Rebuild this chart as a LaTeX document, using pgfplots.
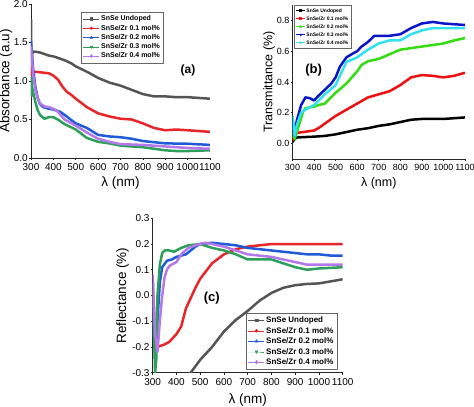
\documentclass[border=0pt]{standalone}
\usepackage{pgfplots}
\pgfplotsset{compat=1.18}
\usepackage{fontspec}
\setmainfont{Liberation Sans}
\definecolor{agray}{HTML}{555555}
\definecolor{ared}{HTML}{E8262A}
\definecolor{ablue}{HTML}{1F5BD6}
\definecolor{agreen}{HTML}{2CA05A}
\definecolor{apurple}{HTML}{B478E8}
\definecolor{bred}{HTML}{EE1111}
\definecolor{bgreen}{HTML}{33DD11}
\definecolor{bblue}{HTML}{0A14C8}
\definecolor{bcyan}{HTML}{33E0F0}
\pgfplotsset{
  panel/.style={
    scale only axis,
    axis x line*=bottom, axis y line*=left,
    axis line style={line width=0.8pt, black!85},
    tick align=outside, major tick length=2pt,
    tick style={line width=0.6pt, black!85},
    xmin=300, xmax=1100,
    xtick={300,400,...,1100},
    /pgf/number format/assume math mode=true,
    x tick label style={/pgf/number format/1000 sep={}},
    y tick label style={inner xsep=1pt,/pgf/number format/fixed,/pgf/number format/fixed zerofill,/pgf/number format/precision=1},
    legend cell align=left,
    every axis plot/.append style={line width=2.5pt, line join=round},
  },
}
\begin{document}
\begin{tikzpicture}
\useasboundingbox (0pt,0pt) rectangle (474pt,407pt);
% ---------------- (a)
\begin{axis}[panel,
  at={(31pt,249pt)}, anchor=south west, width=179pt, height=154pt,
  ymin=0, ymax=2, ytick={0,0.5,...,2},
  tick label style={font=\fontsize{10}{12}\selectfont},
  label style={font=\fontsize{13.5}{15}\selectfont},
  xlabel={λ (nm)}, ylabel={Absorbance (a.u)},
  xlabel style={at={(axis description cs:0.5,-0.162)}, anchor=center},
  ylabel style={at={(axis description cs:-0.14,0.5)}, anchor=center},
  legend style={at={(axis description cs:0.279,0.948)}, anchor=north west,
    draw=black!60, line width=0.5pt, inner xsep=2pt, inner ysep=2pt,
    font=\fontsize{7}{8}\selectfont\bfseries,
    nodes={inner xsep=1.5pt, inner ysep=1pt, text height=5.5pt, text depth=1.8pt}},
  legend image code/.code={\draw[mark repeat=2,mark phase=2,#1] plot coordinates {(0pt,0pt) (8pt,0pt) (16pt,0pt)};},
]
\addlegendimage{agray, line width=0.5pt, mark=square*, mark size=1.2pt}
\addlegendentry{SnSe Undoped}
\addlegendimage{ared, line width=0.5pt, mark=*, mark size=1.3pt}
\addlegendentry{SnSe/Zr 0.1 mol\%}
\addlegendimage{ablue, line width=0.5pt, mark=triangle*, mark size=1.5pt}
\addlegendentry{SnSe/Zr 0.2 mol\%}
\addlegendimage{agreen, line width=0.5pt, mark=triangle*, mark size=1.5pt, mark options={rotate=180}}
\addlegendentry{SnSe/Zr 0.3 mol\%}
\addlegendimage{apurple, line width=0.5pt, mark=diamond*, mark size=1.6pt}
\addlegendentry{SnSe/Zr 0.4 mol\%}
\addplot[agray, forget plot] coordinates {(300,1.80)(302,0.80)(305,1.35)(310,1.38)(320,1.38)(340,1.37)(360,1.35)(380,1.33)(400,1.32)(420,1.30)(450,1.27)(480,1.23)(500,1.19)(550,1.12)(600,1.04)(650,0.98)(700,0.94)(750,0.885)(800,0.83)(850,0.80)(900,0.80)(950,0.79)(1000,0.79)(1050,0.78)(1100,0.77)};
\addplot[ared, forget plot] coordinates {(300,1.20)(305,1.00)(310,1.12)(320,1.12)(350,1.11)(380,1.10)(400,1.07)(420,1.02)(440,0.93)(460,0.86)(480,0.82)(500,0.77)(550,0.66)(600,0.58)(650,0.54)(700,0.51)(750,0.50)(800,0.45)(850,0.39)(900,0.36)(950,0.37)(1000,0.36)(1050,0.35)(1100,0.34)};
\addplot[ablue, forget plot] coordinates {(300,1.52)(305,1.30)(310,1.15)(320,0.92)(330,0.78)(340,0.70)(355,0.66)(380,0.64)(400,0.63)(430,0.60)(450,0.56)(500,0.45)(550,0.39)(600,0.30)(650,0.28)(700,0.27)(750,0.25)(800,0.22)(900,0.19)(1000,0.185)(1100,0.17)};
\addplot[agreen, forget plot] coordinates {(300,0.80)(303,1.05)(306,0.90)(310,0.85)(320,0.72)(330,0.62)(340,0.56)(360,0.51)(380,0.53)(400,0.53)(420,0.50)(450,0.44)(500,0.37)(550,0.26)(600,0.21)(650,0.19)(700,0.16)(750,0.15)(800,0.14)(850,0.12)(900,0.10)(950,0.09)(1000,0.09)(1100,0.10)};
\addplot[apurple, forget plot] coordinates {(300,1.45)(305,1.25)(310,1.08)(320,0.88)(330,0.78)(340,0.71)(360,0.67)(380,0.66)(400,0.64)(420,0.60)(450,0.50)(500,0.42)(550,0.33)(600,0.25)(650,0.21)(700,0.18)(800,0.17)(900,0.15)(1000,0.13)(1100,0.12)};
\end{axis}
% ---------------- (b)
\begin{axis}[panel,
  at={(292.5pt,248pt)}, anchor=south west, width=172.5pt, height=154pt,
  ymin=-0.1, ymax=0.9, ytick={0,0.2,...,0.8},
  tick label style={font=\fontsize{9}{11}\selectfont},
  label style={font=\fontsize{12.5}{14}\selectfont},
  xlabel={λ (nm)}, ylabel={Transmittance (\%)},
  xlabel style={at={(axis description cs:0.5,-0.158)}, anchor=center},
  ylabel style={at={(axis description cs:-0.135,0.5)}, anchor=center},
  legend style={at={(axis description cs:0.01,1.0)}, anchor=north west,
    draw=black!60, line width=0.5pt, inner xsep=1.5pt, inner ysep=1.5pt,
    font=\fontsize{5}{6}\selectfont\bfseries,
    nodes={inner xsep=1pt, inner ysep=1pt, text height=4.5pt, text depth=1.5pt}},
  legend image code/.code={\draw[mark repeat=2,mark phase=2,#1] plot coordinates {(0pt,0pt) (4.5pt,0pt) (9pt,0pt)};},
]
\addlegendimage{black, line width=0.5pt, mark=square*, mark size=1pt}
\addlegendentry{SnSe Undoped}
\addlegendimage{bred, line width=0.5pt, mark=square*, mark size=1pt}
\addlegendentry{SnSe/Zr 0.1 mol\%}
\addlegendimage{bgreen, line width=0.5pt, mark=triangle*, mark size=1.3pt}
\addlegendentry{SnSe/Zr 0.2 mol\%}
\addlegendimage{bblue, line width=0.5pt, mark=triangle*, mark size=1.3pt, mark options={rotate=180}}
\addlegendentry{SnSe/Zr 0.3 mol\%}
\addlegendimage{bcyan, line width=0.5pt, mark=*, mark size=1.1pt}
\addlegendentry{SnSe/Zr 0.4 mol\%}
\addplot[black, forget plot] coordinates {(300,0.01)(310,0.03)(320,0.04)(350,0.042)(400,0.045)(450,0.05)(500,0.06)(550,0.075)(600,0.09)(650,0.10)(700,0.115)(750,0.125)(800,0.14)(850,0.155)(900,0.16)(950,0.16)(1000,0.16)(1050,0.165)(1100,0.17)};
\addplot[bred, forget plot] coordinates {(300,0.02)(310,0.05)(320,0.07)(350,0.075)(400,0.085)(420,0.10)(450,0.13)(500,0.18)(550,0.22)(600,0.26)(650,0.30)(700,0.32)(750,0.34)(800,0.38)(850,0.43)(900,0.445)(950,0.44)(1000,0.43)(1050,0.44)(1100,0.46)};
\addplot[bgreen, forget plot] coordinates {(300,0.07)(310,0.03)(330,0.12)(350,0.21)(360,0.23)(400,0.24)(420,0.25)(450,0.26)(500,0.33)(550,0.39)(600,0.47)(620,0.51)(650,0.535)(700,0.55)(750,0.58)(800,0.61)(850,0.62)(900,0.63)(950,0.64)(1000,0.65)(1050,0.67)(1100,0.685)};
\addplot[bblue, forget plot] coordinates {(300,0.16)(310,0.05)(320,0.15)(340,0.25)(360,0.30)(380,0.295)(400,0.28)(420,0.31)(450,0.35)(480,0.39)(500,0.43)(520,0.50)(550,0.56)(580,0.585)(600,0.60)(620,0.63)(650,0.66)(680,0.70)(700,0.70)(750,0.70)(800,0.71)(850,0.75)(900,0.78)(950,0.79)(1000,0.78)(1050,0.775)(1100,0.77)};
\addplot[bcyan, forget plot] coordinates {(300,0.18)(310,0.05)(320,0.12)(340,0.20)(360,0.22)(400,0.25)(450,0.32)(500,0.38)(530,0.47)(550,0.53)(600,0.56)(650,0.61)(700,0.65)(750,0.67)(800,0.67)(850,0.71)(900,0.735)(950,0.75)(1000,0.75)(1050,0.75)(1100,0.75)};
\end{axis}
% ---------------- (c)
\begin{axis}[panel,
  at={(152.7pt,34.3pt)}, anchor=south west, width=190pt, height=154.4pt,
  ymin=-0.3, ymax=0.3, ytick={-0.3,-0.2,...,0.31},
  tick label style={font=\fontsize{10}{12}\selectfont},
  label style={font=\fontsize{13.5}{15}\selectfont},
  xlabel={λ (nm)}, ylabel={Reflectance (\%)},
  xlabel style={at={(axis description cs:0.5,-0.177)}, anchor=center},
  ylabel style={at={(axis description cs:-0.158,0.5)}, anchor=center},
  legend style={at={(axis description cs:0.491,0.385)}, anchor=north west,
    draw=black!60, line width=0.5pt, inner xsep=2pt, inner ysep=1.5pt,
    font=\fontsize{8}{9}\selectfont\bfseries,
    nodes={inner xsep=1.5pt, inner ysep=1pt, text height=6.5pt, text depth=2pt}},
  legend image code/.code={\draw[mark repeat=2,mark phase=2,#1] plot coordinates {(0pt,0pt) (8pt,0pt) (16pt,0pt)};},
]
\addlegendimage{agray, line width=0.5pt, mark=square*, mark size=1.3pt}
\addlegendentry{SnSe Undoped}
\addlegendimage{ared, line width=0.5pt, mark=*, mark size=1.5pt}
\addlegendentry{SnSe/Zr 0.1 mol\%}
\addlegendimage{ablue, line width=0.5pt, mark=triangle*, mark size=1.7pt}
\addlegendentry{SnSe/Zr 0.2 mol\%}
\addlegendimage{agreen, line width=0.5pt, mark=triangle*, mark size=1.7pt, mark options={rotate=180}}
\addlegendentry{SnSe/Zr 0.3 mol\%}
\addlegendimage{apurple, line width=0.5pt, mark=diamond*, mark size=1.8pt}
\addlegendentry{SnSe/Zr 0.4 mol\%}
\addplot[agray, forget plot] coordinates {(450,-0.32)(460,-0.30)(500,-0.25)(550,-0.20)(600,-0.14)(650,-0.095)(700,-0.06)(750,-0.02)(800,0.01)(850,0.03)(900,0.04)(950,0.045)(1000,0.047)(1050,0.055)(1100,0.063)};
\addplot[ared, forget plot] coordinates {(300,0.02)(305,-0.05)(310,-0.18)(320,-0.20)(350,-0.19)(370,-0.18)(380,-0.17)(400,-0.15)(420,-0.12)(440,-0.05)(460,-0.01)(480,0.03)(500,0.065)(550,0.125)(600,0.16)(650,0.18)(700,0.19)(750,0.195)(800,0.20)(850,0.20)(900,0.20)(1000,0.20)(1100,0.20)};
\addplot[ablue, forget plot] coordinates {(300,-0.05)(310,-0.25)(320,-0.10)(330,0.05)(340,0.11)(360,0.135)(380,0.14)(400,0.15)(420,0.155)(440,0.16)(460,0.175)(480,0.19)(500,0.20)(550,0.205)(600,0.20)(650,0.195)(700,0.185)(750,0.18)(800,0.175)(850,0.17)(900,0.165)(950,0.16)(1000,0.16)(1050,0.155)(1100,0.155)};
\addplot[agreen, forget plot] coordinates {(300,0.05)(305,-0.10)(310,-0.30)(315,-0.25)(320,0.00)(330,0.12)(340,0.165)(350,0.175)(370,0.175)(390,0.17)(400,0.175)(420,0.185)(450,0.195)(500,0.20)(550,0.185)(600,0.175)(650,0.16)(700,0.14)(750,0.14)(800,0.14)(850,0.125)(900,0.11)(950,0.10)(1000,0.105)(1100,0.11)};
\addplot[apurple, forget plot] coordinates {(300,0.08)(310,-0.15)(320,-0.22)(330,-0.10)(340,0.00)(350,0.07)(360,0.10)(370,0.115)(400,0.13)(420,0.16)(450,0.185)(480,0.195)(500,0.20)(520,0.205)(550,0.20)(600,0.19)(650,0.175)(700,0.16)(750,0.155)(800,0.15)(850,0.14)(900,0.13)(950,0.12)(1000,0.12)(1050,0.12)(1100,0.12)};
\end{axis}
\node[font=\fontsize{12}{14}\selectfont\bfseries] at (188pt,337pt) {(a)};
\node[font=\fontsize{13}{15}\selectfont\bfseries] at (313.7pt,337pt) {(b)};
\node[font=\fontsize{13}{15}\selectfont\bfseries] at (211.7pt,108.7pt) {(c)};
\end{tikzpicture}
\end{document}
